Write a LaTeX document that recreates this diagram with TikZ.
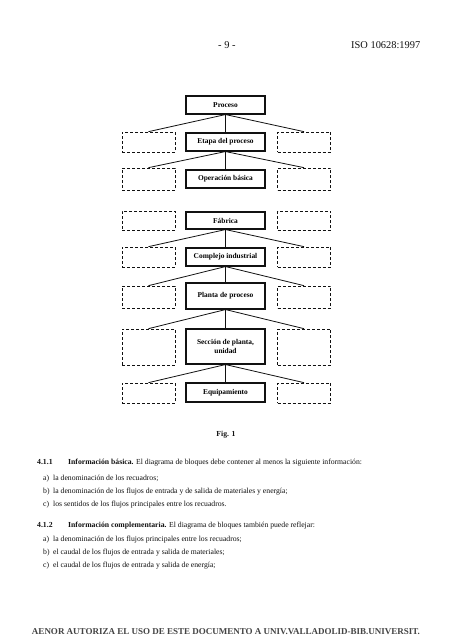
\documentclass[tikz,border=0pt]{standalone}
\usepackage{fontspec}
\setmainfont{Liberation Serif}
\usepackage{tikz}
\usetikzlibrary{positioning}
\definecolor{ink}{HTML}{111111}
\definecolor{wm}{HTML}{444444}
\tikzset{
  blk/.style   = {rectangle, draw=ink, line width=1.1pt, fill=white,
                  minimum width=79pt, minimum height=18pt, inner sep=0pt,
                  align=center, font=\fontsize{7.4}{9}\selectfont\bfseries},
  ghost/.style = {rectangle, draw=ink, line width=0.7pt, dash pattern=on 3pt off 2pt,
                  minimum width=53pt, minimum height=20pt, inner sep=0pt},
  ln/.style    = {draw=ink, line width=0.8pt},
  txt/.style   = {anchor=base west, inner sep=0pt, text=ink,
                  font=\fontsize{7.7}{9}\selectfont},
  hdr/.style   = {anchor=base west, inner sep=0pt, text=ink,
                  font=\fontsize{10.4}{12}\selectfont},
}

\begin{document}
\begin{tikzpicture}[x=1pt, y=-1pt]
  \useasboundingbox[fill=white] (0,0) rectangle (452,640);

  \node[hdr] (pg) at (218,48.5) {- 9 -};
  \node[hdr] (iso) at (351,48.5) {ISO 10628:1997};

  % upper tree
  \node[blk] (proc) at (225.5,105) {Proceso};
  \node[blk] (etapa) at (225.5,142) {Etapa del proceso};
  \node[ghost] (etapaL) at (148.5,142) {};
  \node[ghost] (etapaR) at (304,142) {};
  \node[blk] (oper) at (225.5,179) {Operación básica};
  \node[ghost, minimum height=22pt] (operL) at (148.5,179) {};
  \node[ghost, minimum height=22pt] (operR) at (304,179) {};

  % lower tree
  \node[blk, minimum height=17pt] (fab) at (225.5,220.5) {Fábrica};
  \node[ghost, minimum height=19pt] (fabL) at (148.5,220.5) {};
  \node[ghost, minimum height=19pt] (fabR) at (304,220.5) {};
  \node[blk] (compl) at (225.5,257) {Complejo industrial};
  \node[ghost] (complL) at (148.5,257) {};
  \node[ghost] (complR) at (304,257) {};
  \node[blk, minimum height=26pt] (planta) at (225.5,296) {Planta de proceso};
  \node[ghost, minimum height=22pt] (plantaL) at (148.5,297) {};
  \node[ghost, minimum height=22pt] (plantaR) at (304,297) {};
  \node[blk, minimum height=35pt] (secc) at (225.5,346.5) {Sección de planta,\\ unidad};
  \node[ghost, minimum height=36pt] (seccL) at (148.5,347) {};
  \node[ghost, minimum height=36pt] (seccR) at (304,347) {};
  \node[blk, minimum height=19pt] (equip) at (225.5,392.5) {Equipamiento};
  \node[ghost] (equipL) at (148.5,393) {};
  \node[ghost] (equipR) at (304,393) {};

  \draw[ln] (proc.south) -- (etapa.north) (proc.south) -- (etapaL.north) (proc.south) -- (etapaR.north);
  \draw[ln] (etapa.south) -- (oper.north) (etapa.south) -- (operL.north) (etapa.south) -- (operR.north);
  \draw[ln] (fab.south) -- (compl.north) (fab.south) -- (complL.north) (fab.south) -- (complR.north);
  \draw[ln] (compl.south) -- (planta.north) (compl.south) -- (plantaL.north) (compl.south) -- (plantaR.north);
  \draw[ln] (planta.south) -- (secc.north) (planta.south) -- (seccL.north) (planta.south) -- (seccR.north);
  \draw[ln] (secc.south) -- (equip.north) (secc.south) -- (equipL.north) (secc.south) -- (equipR.north);

  \node[txt, anchor=base, font=\fontsize{7.7}{9}\selectfont\bfseries] (fig) at (226,436) {Fig. 1};

  % text below the figure
  \node[txt, font=\fontsize{7.7}{9}\selectfont\bfseries] (n411) at (37,464.5) {4.1.1};
  \node[txt] (h411) at (68,464.5) {\textbf{Información básica.} El diagrama de bloques debe contener al menos la siguiente información:};
  \node[txt] (ia) at (43,480) {a)};
  \node[txt] (ta) at (53,480) {la denominación de los recuadros;};
  \node[txt] (ib) at (43,493.5) {b)};
  \node[txt] (tb) at (53,493.5) {la denominación de los flujos de entrada y de salida de materiales y energía;};
  \node[txt] (ic) at (43,506.5) {c)};
  \node[txt] (tc) at (53,506.5) {los sentidos de los flujos principales entre los recuadros.};

  \node[txt, font=\fontsize{7.7}{9}\selectfont\bfseries] (n412) at (37,527.5) {4.1.2};
  \node[txt] (h412) at (68,527.5) {\textbf{Información complementaria.} El diagrama de bloques también puede reflejar:};
  \node[txt] (ja) at (43,541) {a)};
  \node[txt] (sa) at (53,541) {la denominación de los flujos principales entre los recuadros;};
  \node[txt] (jb) at (43,554) {b)};
  \node[txt] (sb) at (53,554) {el caudal de los flujos de entrada y salida de materiales;};
  \node[txt] (jc) at (43,567) {c)};
  \node[txt] (sc) at (53,567) {el caudal de los flujos de entrada y salida de energía;};

  \node[txt, anchor=base, text=wm, font=\fontsize{9}{11}\selectfont\bfseries] (foot) at (226,634.5)
       {AENOR AUTORIZA EL USO DE ESTE DOCUMENTO A UNIV.VALLADOLID-BIB.UNIVERSIT.};
\end{tikzpicture}
\end{document}
